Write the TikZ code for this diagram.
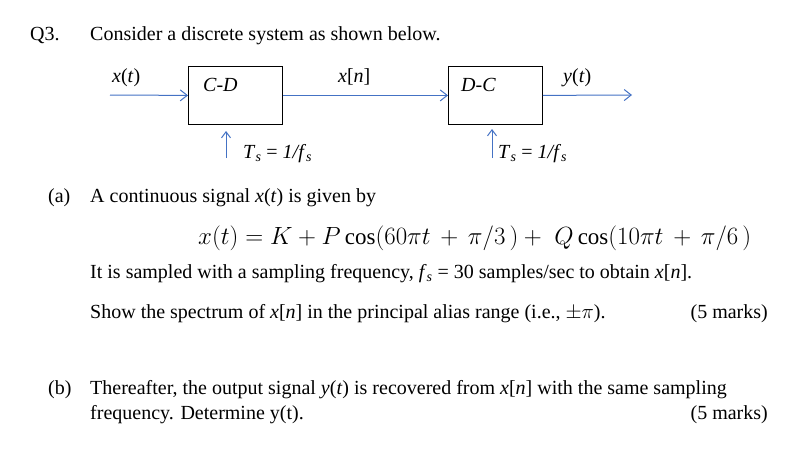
\documentclass[tikz,border=0pt]{standalone}
\usepackage{fontspec}
\setmainfont{Liberation Serif}
\usetikzlibrary{arrows.meta}
\definecolor{ln}{HTML}{4472C4}
\newcommand{\sub}[1]{\textsubscript{\textit{#1}}}
\begin{document}
\begin{tikzpicture}[x=1pt,y=-1pt,
  txt/.style={anchor=base west,inner sep=0pt,font=\fontsize{20}{24}\selectfont},
  blk/.style={draw,line width=0.8pt,minimum width=94pt,minimum height=58pt,anchor=north west},
  sig/.style={draw=ln,line width=1pt,-{Straight Barb[length=7pt,width=11pt]}},
  up/.style={draw=ln,line width=1pt,-{Straight Barb[length=6pt,width=9pt]}}]
\useasboundingbox (0,0) rectangle (796,463);
\node[txt] (q) at (30,40) {Q3.};
\node[txt] (t0) at (90,40) {Consider a discrete system as shown below.};
\node[blk] (cd) at (188,66) {};
\node[blk] (dc) at (448,66) {};
\node[txt] at (203,91) {\textit{C-D}};
\node[txt] at (461,91) {\textit{D-C}};
\coordinate (in) at (110,95);
\coordinate (out) at (632,95);
\draw[sig] (in) -- (cd.west);
\draw[sig] (cd.east) -- (dc.west);
\draw[sig] (dc.east) -- (out);
\node[txt] at (112,82) {\textit{x}(\textit{t})};
\node[txt] at (338,82) {\textit{x}[\textit{n}]};
\node[txt] at (563,82) {\textit{y}(\textit{t})};
\coordinate (a1) at (226,158); \coordinate (a1t) at (226,131);
\coordinate (a2) at (492,158); \coordinate (a2t) at (492,129);
\draw[up] (a1) -- (a1t);
\draw[up] (a2) -- (a2t);
\node[txt] at (243,158) {\textit{T}\sub{s} = \textit{1/f}\sub{s}};
\node[txt] at (498,158) {\textit{T}\sub{s} = \textit{1/f}\sub{s}};
\node[txt] at (48,202) {(a)};
\node[txt] at (90,202) {A continuous signal \textit{x}(\textit{t}) is given by};
\node[txt,font=\fontsize{23}{26}\selectfont] at (198,244) {$x(t) = K + P\cos(60\pi t\,+\,\pi/3\,) + \;Q\cos(10\pi t\,+\,\pi/6\,)$};
\node[txt] at (90,278) {It is sampled with a sampling frequency, \textit{f}\sub{s} = 30 samples/sec to obtain \textit{x}[\textit{n}].};
\node[txt] at (90,318) {Show the spectrum of \textit{x}[\textit{n}] in the principal alias range (i.e., $\pm\pi$).};
\node[txt,anchor=base east] at (768,318) {(5 marks)};
\node[txt] at (48,394) {(b)};
\node[txt,text width=693pt,align=justify] at (90,394) {Thereafter, the output signal \textit{y}(\textit{t}) is recovered from \textit{x}[\textit{n}] with the same sampling};
\node[txt] at (90,419) {frequency. Determine y(t).};
\node[txt,anchor=base east] at (768,419) {(5 marks)};
\end{tikzpicture}
\end{document}
